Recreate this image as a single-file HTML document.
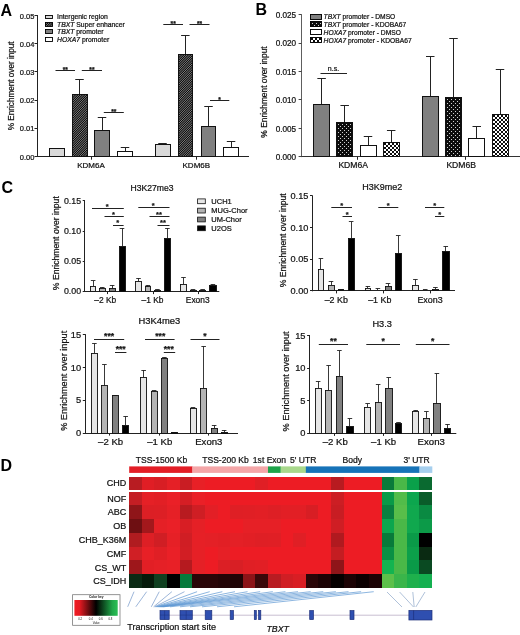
<!DOCTYPE html>
<html lang="en"><head><meta charset="utf-8"><title>Figure</title>
<style>html,body{margin:0;padding:0;background:#fff;}body{width:520px;height:635px;overflow:hidden;}svg{display:block;font-family:'Liberation Sans', Arial, sans-serif;}text{stroke:#111;stroke-width:0.22px;paint-order:stroke fill;}</style>
</head><body>
<svg width="520" height="635" viewBox="0 0 520 635">
<defs>
<pattern id="hatch" width="1.63" height="1.63" patternUnits="userSpaceOnUse" patternTransform="rotate(-45)"><rect width="1.63" height="1.63" fill="#0c0c0c"/><rect width="1.63" height="0.55" fill="#fff"/></pattern>
<pattern id="chkd" width="4.2" height="4.0" patternUnits="userSpaceOnUse"><rect width="4.2" height="4.0" fill="#0c0c0c"/><rect x="0.5" y="0.45" width="1.1" height="1.1" fill="#fff"/><rect x="2.6" y="2.45" width="1.1" height="1.1" fill="#fff"/></pattern>
<pattern id="chkl" width="4.2" height="4.2" patternUnits="userSpaceOnUse"><rect width="4.2" height="4.2" fill="#fff"/><rect x="0" y="0" width="2.1" height="2.1" fill="#0c0c0c"/><rect x="2.1" y="2.1" width="2.1" height="2.1" fill="#0c0c0c"/></pattern>
<linearGradient id="ckey" x1="0" x2="1" y1="0" y2="0"><stop offset="0" stop-color="#f01c24"/><stop offset="0.12" stop-color="#e31a22"/><stop offset="0.5" stop-color="#000"/><stop offset="0.88" stop-color="#1fa849"/><stop offset="1" stop-color="#2bbf55"/></linearGradient>
</defs>
<rect width="520" height="635" fill="#fff"/>
<text x="0.50" y="16.00" font-size="16" text-anchor="start" font-weight="bold" font-style="normal" fill="#000" style="stroke:none">A</text>
<text x="255.50" y="15.00" font-size="16" text-anchor="start" font-weight="bold" font-style="normal" fill="#000" style="stroke:none">B</text>
<text x="1.50" y="193.00" font-size="16" text-anchor="start" font-weight="bold" font-style="normal" fill="#000" style="stroke:none">C</text>
<text x="0.50" y="470.50" font-size="16" text-anchor="start" font-weight="bold" font-style="normal" fill="#000" style="stroke:none">D</text>
<line x1="37.50" y1="15.00" x2="37.50" y2="157.00" stroke="#222" stroke-width="1" />
<line x1="37.00" y1="156.50" x2="249.00" y2="156.50" stroke="#222" stroke-width="1" />
<line x1="34.50" y1="156.50" x2="37.50" y2="156.50" stroke="#222" stroke-width="1" />
<text x="34.40" y="159.60" font-size="7.5" text-anchor="end" font-weight="normal" font-style="normal" fill="#111" >0.00</text>
<line x1="34.50" y1="128.50" x2="37.50" y2="128.50" stroke="#222" stroke-width="1" />
<text x="34.40" y="131.40" font-size="7.5" text-anchor="end" font-weight="normal" font-style="normal" fill="#111" >0.01</text>
<line x1="34.50" y1="100.50" x2="37.50" y2="100.50" stroke="#222" stroke-width="1" />
<text x="34.40" y="103.20" font-size="7.5" text-anchor="end" font-weight="normal" font-style="normal" fill="#111" >0.02</text>
<line x1="34.50" y1="71.50" x2="37.50" y2="71.50" stroke="#222" stroke-width="1" />
<text x="34.40" y="75.00" font-size="7.5" text-anchor="end" font-weight="normal" font-style="normal" fill="#111" >0.03</text>
<line x1="34.50" y1="43.50" x2="37.50" y2="43.50" stroke="#222" stroke-width="1" />
<text x="34.40" y="46.80" font-size="7.5" text-anchor="end" font-weight="normal" font-style="normal" fill="#111" >0.04</text>
<line x1="34.50" y1="15.50" x2="37.50" y2="15.50" stroke="#222" stroke-width="1" />
<text x="34.40" y="18.60" font-size="7.5" text-anchor="end" font-weight="normal" font-style="normal" fill="#111" >0.05</text>
<text transform="translate(13.6,85.8) rotate(-90)" font-size="8.17" text-anchor="middle" fill="#111">% Enrichment over input</text>
<line x1="91.50" y1="156.50" x2="91.50" y2="159.70" stroke="#222" stroke-width="1" />
<line x1="196.50" y1="156.50" x2="196.50" y2="159.70" stroke="#222" stroke-width="1" />
<text x="91.00" y="168.40" font-size="8.0" text-anchor="middle" font-weight="normal" font-style="normal" fill="#111" >KDM6A</text>
<text x="196.30" y="168.40" font-size="8.0" text-anchor="middle" font-weight="normal" font-style="normal" fill="#111" >KDM6B</text>
<line x1="56.50" y1="148.80" x2="56.50" y2="148.30" stroke="#222" stroke-width="1" />
<line x1="52.25" y1="148.50" x2="60.75" y2="148.50" stroke="#222" stroke-width="1" />
<rect x="49.50" y="148.50" width="15.00" height="8.00" fill="#d9d9d9" stroke="#111" stroke-width="1" />
<line x1="79.50" y1="94.30" x2="79.50" y2="79.20" stroke="#222" stroke-width="1" />
<line x1="75.25" y1="79.50" x2="83.75" y2="79.50" stroke="#222" stroke-width="1" />
<clipPath id="cp1"><rect x="72.50" y="94.50" width="15.00" height="62.00"/></clipPath>
<rect x="72.50" y="94.50" width="15.00" height="62.00" fill="#0c0c0c"/>
<path d="M10.50 156.50L72.50 94.50M12.80 156.50L74.80 94.50M15.10 156.50L77.10 94.50M17.40 156.50L79.40 94.50M19.70 156.50L81.70 94.50M22.00 156.50L84.00 94.50M24.30 156.50L86.30 94.50M26.60 156.50L88.60 94.50M28.90 156.50L90.90 94.50M31.20 156.50L93.20 94.50M33.50 156.50L95.50 94.50M35.80 156.50L97.80 94.50M38.10 156.50L100.10 94.50M40.40 156.50L102.40 94.50M42.70 156.50L104.70 94.50M45.00 156.50L107.00 94.50M47.30 156.50L109.30 94.50M49.60 156.50L111.60 94.50M51.90 156.50L113.90 94.50M54.20 156.50L116.20 94.50M56.50 156.50L118.50 94.50M58.80 156.50L120.80 94.50M61.10 156.50L123.10 94.50M63.40 156.50L125.40 94.50M65.70 156.50L127.70 94.50M68.00 156.50L130.00 94.50M70.30 156.50L132.30 94.50M72.60 156.50L134.60 94.50M74.90 156.50L136.90 94.50M77.20 156.50L139.20 94.50M79.50 156.50L141.50 94.50M81.80 156.50L143.80 94.50M84.10 156.50L146.10 94.50M86.40 156.50L148.40 94.50" stroke="#fff" stroke-width="0.48" fill="none" clip-path="url(#cp1)"/>
<rect x="72.50" y="94.50" width="15.00" height="62.00" fill="none" stroke="#111" stroke-width="1" />
<line x1="102.50" y1="130.80" x2="102.50" y2="117.50" stroke="#222" stroke-width="1" />
<line x1="97.75" y1="117.50" x2="106.25" y2="117.50" stroke="#222" stroke-width="1" />
<rect x="94.50" y="130.50" width="15.00" height="26.00" fill="#808080" stroke="#111" stroke-width="1" />
<line x1="125.50" y1="151.30" x2="125.50" y2="147.00" stroke="#222" stroke-width="1" />
<line x1="120.75" y1="147.50" x2="129.25" y2="147.50" stroke="#222" stroke-width="1" />
<rect x="117.50" y="151.50" width="15.00" height="5.00" fill="#fff" stroke="#111" stroke-width="1" />
<line x1="162.50" y1="144.30" x2="162.50" y2="143.60" stroke="#222" stroke-width="1" />
<line x1="158.25" y1="143.50" x2="166.75" y2="143.50" stroke="#222" stroke-width="1" />
<rect x="155.50" y="144.50" width="15.00" height="12.00" fill="#d9d9d9" stroke="#111" stroke-width="1" />
<line x1="185.50" y1="54.50" x2="185.50" y2="35.80" stroke="#222" stroke-width="1" />
<line x1="181.10" y1="35.50" x2="189.60" y2="35.50" stroke="#222" stroke-width="1" />
<clipPath id="cp2"><rect x="178.50" y="54.50" width="14.00" height="102.00"/></clipPath>
<rect x="178.50" y="54.50" width="14.00" height="102.00" fill="#0c0c0c"/>
<path d="M76.50 156.50L178.50 54.50M78.80 156.50L180.80 54.50M81.10 156.50L183.10 54.50M83.40 156.50L185.40 54.50M85.70 156.50L187.70 54.50M88.00 156.50L190.00 54.50M90.30 156.50L192.30 54.50M92.60 156.50L194.60 54.50M94.90 156.50L196.90 54.50M97.20 156.50L199.20 54.50M99.50 156.50L201.50 54.50M101.80 156.50L203.80 54.50M104.10 156.50L206.10 54.50M106.40 156.50L208.40 54.50M108.70 156.50L210.70 54.50M111.00 156.50L213.00 54.50M113.30 156.50L215.30 54.50M115.60 156.50L217.60 54.50M117.90 156.50L219.90 54.50M120.20 156.50L222.20 54.50M122.50 156.50L224.50 54.50M124.80 156.50L226.80 54.50M127.10 156.50L229.10 54.50M129.40 156.50L231.40 54.50M131.70 156.50L233.70 54.50M134.00 156.50L236.00 54.50M136.30 156.50L238.30 54.50M138.60 156.50L240.60 54.50M140.90 156.50L242.90 54.50M143.20 156.50L245.20 54.50M145.50 156.50L247.50 54.50M147.80 156.50L249.80 54.50M150.10 156.50L252.10 54.50M152.40 156.50L254.40 54.50M154.70 156.50L256.70 54.50M157.00 156.50L259.00 54.50M159.30 156.50L261.30 54.50M161.60 156.50L263.60 54.50M163.90 156.50L265.90 54.50M166.20 156.50L268.20 54.50M168.50 156.50L270.50 54.50M170.80 156.50L272.80 54.50M173.10 156.50L275.10 54.50M175.40 156.50L277.40 54.50M177.70 156.50L279.70 54.50M180.00 156.50L282.00 54.50M182.30 156.50L284.30 54.50M184.60 156.50L286.60 54.50M186.90 156.50L288.90 54.50M189.20 156.50L291.20 54.50M191.50 156.50L293.50 54.50" stroke="#fff" stroke-width="0.48" fill="none" clip-path="url(#cp2)"/>
<rect x="178.50" y="54.50" width="14.00" height="102.00" fill="none" stroke="#111" stroke-width="1" />
<line x1="208.50" y1="126.80" x2="208.50" y2="106.30" stroke="#222" stroke-width="1" />
<line x1="204.25" y1="106.50" x2="212.75" y2="106.50" stroke="#222" stroke-width="1" />
<rect x="201.50" y="126.50" width="14.00" height="30.00" fill="#808080" stroke="#111" stroke-width="1" />
<line x1="231.50" y1="147.80" x2="231.50" y2="141.50" stroke="#222" stroke-width="1" />
<line x1="226.80" y1="141.50" x2="235.30" y2="141.50" stroke="#222" stroke-width="1" />
<rect x="223.50" y="147.50" width="15.00" height="9.00" fill="#fff" stroke="#111" stroke-width="1" />
<line x1="55.50" y1="70.50" x2="75.00" y2="70.50" stroke="#222" stroke-width="1" />
<text x="65.25" y="71.50" font-size="6.6" text-anchor="middle" font-weight="bold" font-style="normal" fill="#111" >**</text>
<line x1="81.80" y1="70.50" x2="102.00" y2="70.50" stroke="#222" stroke-width="1" />
<text x="91.90" y="71.50" font-size="6.6" text-anchor="middle" font-weight="bold" font-style="normal" fill="#111" >**</text>
<line x1="103.80" y1="112.50" x2="123.80" y2="112.50" stroke="#222" stroke-width="1" />
<text x="113.80" y="113.50" font-size="6.6" text-anchor="middle" font-weight="bold" font-style="normal" fill="#111" >**</text>
<line x1="163.30" y1="24.50" x2="183.00" y2="24.50" stroke="#222" stroke-width="1" />
<text x="173.15" y="25.50" font-size="6.6" text-anchor="middle" font-weight="bold" font-style="normal" fill="#111" >**</text>
<line x1="189.50" y1="24.50" x2="209.50" y2="24.50" stroke="#222" stroke-width="1" />
<text x="199.50" y="25.50" font-size="6.6" text-anchor="middle" font-weight="bold" font-style="normal" fill="#111" >**</text>
<line x1="210.00" y1="100.50" x2="229.30" y2="100.50" stroke="#222" stroke-width="1" />
<text x="219.65" y="101.50" font-size="6.6" text-anchor="middle" font-weight="bold" font-style="normal" fill="#111" >*</text>
<rect x="45.50" y="15.50" width="7.00" height="3.00" fill="#d9d9d9" stroke="#000" stroke-width="0.9" />
<text x="57.00" y="19.30" font-size="6.82" text-anchor="start" font-weight="normal" font-style="normal" fill="#111" >Intergenic region</text>
<clipPath id="cp3"><rect x="45.00" y="22.50" width="7.60" height="3.80"/></clipPath>
<rect x="45.00" y="22.50" width="7.60" height="3.80" fill="#0c0c0c"/>
<path d="M41.20 26.30L45.00 22.50M43.50 26.30L47.30 22.50M45.80 26.30L49.60 22.50M48.10 26.30L51.90 22.50M50.40 26.30L54.20 22.50M52.70 26.30L56.50 22.50" stroke="#fff" stroke-width="0.48" fill="none" clip-path="url(#cp3)"/>
<rect x="45.50" y="22.50" width="7.00" height="4.00" fill="none" stroke="#000" stroke-width="0.9" />
<text x="57.00" y="26.70" font-size="6.82" text-anchor="start" font-weight="normal" font-style="normal" fill="#111" ><tspan font-style="italic">TBXT</tspan> Super enhancer</text>
<rect x="45.50" y="29.50" width="7.00" height="4.00" fill="#808080" stroke="#000" stroke-width="0.9" />
<text x="57.00" y="34.10" font-size="6.82" text-anchor="start" font-weight="normal" font-style="normal" fill="#111" ><tspan font-style="italic">TBXT</tspan> promoter</text>
<rect x="45.50" y="37.50" width="7.00" height="4.00" fill="#fff" stroke="#000" stroke-width="0.9" />
<text x="57.00" y="41.60" font-size="6.82" text-anchor="start" font-weight="normal" font-style="normal" fill="#111" ><tspan font-style="italic">HOXA7</tspan> promoter</text>
<line x1="301.50" y1="14.30" x2="301.50" y2="157.10" stroke="#5e5e5e" stroke-width="1" />
<line x1="301.10" y1="156.50" x2="520.00" y2="156.50" stroke="#333" stroke-width="1" />
<line x1="298.60" y1="156.50" x2="301.60" y2="156.50" stroke="#444" stroke-width="1" />
<text x="296.20" y="159.90" font-size="8.2" text-anchor="end" font-weight="normal" font-style="normal" fill="#111" >0.000</text>
<line x1="298.60" y1="128.50" x2="301.60" y2="128.50" stroke="#444" stroke-width="1" />
<text x="296.20" y="131.54" font-size="8.2" text-anchor="end" font-weight="normal" font-style="normal" fill="#111" >0.005</text>
<line x1="298.60" y1="99.50" x2="301.60" y2="99.50" stroke="#444" stroke-width="1" />
<text x="296.20" y="103.18" font-size="8.2" text-anchor="end" font-weight="normal" font-style="normal" fill="#111" >0.010</text>
<line x1="298.60" y1="71.50" x2="301.60" y2="71.50" stroke="#444" stroke-width="1" />
<text x="296.20" y="74.82" font-size="8.2" text-anchor="end" font-weight="normal" font-style="normal" fill="#111" >0.015</text>
<line x1="298.60" y1="43.50" x2="301.60" y2="43.50" stroke="#444" stroke-width="1" />
<text x="296.20" y="46.46" font-size="8.2" text-anchor="end" font-weight="normal" font-style="normal" fill="#111" >0.020</text>
<line x1="298.60" y1="14.50" x2="301.60" y2="14.50" stroke="#444" stroke-width="1" />
<text x="296.20" y="18.10" font-size="8.2" text-anchor="end" font-weight="normal" font-style="normal" fill="#111" >0.025</text>
<text transform="translate(267.4,92) rotate(-90)" font-size="8.4" text-anchor="middle" fill="#111">% Enrichment over input</text>
<line x1="357.50" y1="156.60" x2="357.50" y2="159.80" stroke="#222" stroke-width="1" />
<line x1="465.50" y1="156.60" x2="465.50" y2="159.80" stroke="#222" stroke-width="1" />
<text x="353.20" y="167.50" font-size="8.6" text-anchor="middle" font-weight="normal" font-style="normal" fill="#111" >KDM6A</text>
<text x="461.20" y="167.50" font-size="8.6" text-anchor="middle" font-weight="normal" font-style="normal" fill="#111" >KDM6B</text>
<line x1="321.50" y1="104.80" x2="321.50" y2="78.00" stroke="#222" stroke-width="1" />
<line x1="317.35" y1="78.50" x2="325.85" y2="78.50" stroke="#222" stroke-width="1" />
<rect x="313.50" y="104.50" width="16.00" height="52.00" fill="#808080" stroke="#111" stroke-width="1" />
<line x1="344.50" y1="122.80" x2="344.50" y2="105.00" stroke="#222" stroke-width="1" />
<line x1="340.45" y1="105.50" x2="348.95" y2="105.50" stroke="#222" stroke-width="1" />
<clipPath id="cp4"><rect x="336.50" y="122.50" width="16.00" height="34.00"/></clipPath>
<rect x="336.50" y="122.50" width="16.00" height="34.00" fill="#0c0c0c"/>
<path d="M338 124h1v1h-1zM342 124h1v1h-1zM346 124h1v1h-1zM350 124h1v1h-1zM340 126h1v1h-1zM344 126h1v1h-1zM348 126h1v1h-1zM352 126h1v1h-1zM338 128h1v1h-1zM342 128h1v1h-1zM346 128h1v1h-1zM350 128h1v1h-1zM340 130h1v1h-1zM344 130h1v1h-1zM348 130h1v1h-1zM352 130h1v1h-1zM338 132h1v1h-1zM342 132h1v1h-1zM346 132h1v1h-1zM350 132h1v1h-1zM340 134h1v1h-1zM344 134h1v1h-1zM348 134h1v1h-1zM352 134h1v1h-1zM338 136h1v1h-1zM342 136h1v1h-1zM346 136h1v1h-1zM350 136h1v1h-1zM340 138h1v1h-1zM344 138h1v1h-1zM348 138h1v1h-1zM352 138h1v1h-1zM338 140h1v1h-1zM342 140h1v1h-1zM346 140h1v1h-1zM350 140h1v1h-1zM340 142h1v1h-1zM344 142h1v1h-1zM348 142h1v1h-1zM352 142h1v1h-1zM338 144h1v1h-1zM342 144h1v1h-1zM346 144h1v1h-1zM350 144h1v1h-1zM340 146h1v1h-1zM344 146h1v1h-1zM348 146h1v1h-1zM352 146h1v1h-1zM338 148h1v1h-1zM342 148h1v1h-1zM346 148h1v1h-1zM350 148h1v1h-1zM340 150h1v1h-1zM344 150h1v1h-1zM348 150h1v1h-1zM352 150h1v1h-1zM338 152h1v1h-1zM342 152h1v1h-1zM346 152h1v1h-1zM350 152h1v1h-1zM340 154h1v1h-1zM344 154h1v1h-1zM348 154h1v1h-1zM352 154h1v1h-1zM338 156h1v1h-1zM342 156h1v1h-1zM346 156h1v1h-1zM350 156h1v1h-1z" fill="#d0d0d0" clip-path="url(#cp4)"/>
<rect x="336.50" y="122.50" width="16.00" height="34.00" fill="none" stroke="#111" stroke-width="1" />
<line x1="368.50" y1="145.40" x2="368.50" y2="136.40" stroke="#222" stroke-width="1" />
<line x1="363.75" y1="136.50" x2="372.25" y2="136.50" stroke="#222" stroke-width="1" />
<rect x="360.50" y="145.50" width="16.00" height="11.00" fill="#fff" stroke="#111" stroke-width="1" />
<line x1="391.50" y1="142.30" x2="391.50" y2="130.20" stroke="#222" stroke-width="1" />
<line x1="386.95" y1="130.50" x2="395.45" y2="130.50" stroke="#222" stroke-width="1" />
<clipPath id="cp5"><rect x="383.50" y="142.50" width="16.00" height="14.00"/></clipPath>
<rect x="383.50" y="142.50" width="16.00" height="14.00" fill="#fff"/>
<path d="M384 143h2v2h-2zM388 143h2v2h-2zM392 143h2v2h-2zM396 143h2v2h-2zM386 145h2v2h-2zM390 145h2v2h-2zM394 145h2v2h-2zM398 145h2v2h-2zM384 147h2v2h-2zM388 147h2v2h-2zM392 147h2v2h-2zM396 147h2v2h-2zM386 149h2v2h-2zM390 149h2v2h-2zM394 149h2v2h-2zM398 149h2v2h-2zM384 151h2v2h-2zM388 151h2v2h-2zM392 151h2v2h-2zM396 151h2v2h-2zM386 153h2v2h-2zM390 153h2v2h-2zM394 153h2v2h-2zM398 153h2v2h-2zM384 155h2v2h-2zM388 155h2v2h-2zM392 155h2v2h-2zM396 155h2v2h-2z" fill="#0c0c0c" clip-path="url(#cp5)"/>
<rect x="383.50" y="142.50" width="16.00" height="14.00" fill="none" stroke="#111" stroke-width="1" />
<line x1="430.50" y1="96.50" x2="430.50" y2="56.50" stroke="#222" stroke-width="1" />
<line x1="426.00" y1="56.50" x2="434.50" y2="56.50" stroke="#222" stroke-width="1" />
<rect x="422.50" y="96.50" width="16.00" height="60.00" fill="#808080" stroke="#111" stroke-width="1" />
<line x1="453.50" y1="97.00" x2="453.50" y2="38.20" stroke="#222" stroke-width="1" />
<line x1="449.25" y1="38.50" x2="457.75" y2="38.50" stroke="#222" stroke-width="1" />
<clipPath id="cp6"><rect x="445.50" y="97.50" width="16.00" height="59.00"/></clipPath>
<rect x="445.50" y="97.50" width="16.00" height="59.00" fill="#0c0c0c"/>
<path d="M447 99h1v1h-1zM451 99h1v1h-1zM455 99h1v1h-1zM459 99h1v1h-1zM449 101h1v1h-1zM453 101h1v1h-1zM457 101h1v1h-1zM461 101h1v1h-1zM447 103h1v1h-1zM451 103h1v1h-1zM455 103h1v1h-1zM459 103h1v1h-1zM449 105h1v1h-1zM453 105h1v1h-1zM457 105h1v1h-1zM461 105h1v1h-1zM447 107h1v1h-1zM451 107h1v1h-1zM455 107h1v1h-1zM459 107h1v1h-1zM449 109h1v1h-1zM453 109h1v1h-1zM457 109h1v1h-1zM461 109h1v1h-1zM447 111h1v1h-1zM451 111h1v1h-1zM455 111h1v1h-1zM459 111h1v1h-1zM449 113h1v1h-1zM453 113h1v1h-1zM457 113h1v1h-1zM461 113h1v1h-1zM447 115h1v1h-1zM451 115h1v1h-1zM455 115h1v1h-1zM459 115h1v1h-1zM449 117h1v1h-1zM453 117h1v1h-1zM457 117h1v1h-1zM461 117h1v1h-1zM447 119h1v1h-1zM451 119h1v1h-1zM455 119h1v1h-1zM459 119h1v1h-1zM449 121h1v1h-1zM453 121h1v1h-1zM457 121h1v1h-1zM461 121h1v1h-1zM447 123h1v1h-1zM451 123h1v1h-1zM455 123h1v1h-1zM459 123h1v1h-1zM449 125h1v1h-1zM453 125h1v1h-1zM457 125h1v1h-1zM461 125h1v1h-1zM447 127h1v1h-1zM451 127h1v1h-1zM455 127h1v1h-1zM459 127h1v1h-1zM449 129h1v1h-1zM453 129h1v1h-1zM457 129h1v1h-1zM461 129h1v1h-1zM447 131h1v1h-1zM451 131h1v1h-1zM455 131h1v1h-1zM459 131h1v1h-1zM449 133h1v1h-1zM453 133h1v1h-1zM457 133h1v1h-1zM461 133h1v1h-1zM447 135h1v1h-1zM451 135h1v1h-1zM455 135h1v1h-1zM459 135h1v1h-1zM449 137h1v1h-1zM453 137h1v1h-1zM457 137h1v1h-1zM461 137h1v1h-1zM447 139h1v1h-1zM451 139h1v1h-1zM455 139h1v1h-1zM459 139h1v1h-1zM449 141h1v1h-1zM453 141h1v1h-1zM457 141h1v1h-1zM461 141h1v1h-1zM447 143h1v1h-1zM451 143h1v1h-1zM455 143h1v1h-1zM459 143h1v1h-1zM449 145h1v1h-1zM453 145h1v1h-1zM457 145h1v1h-1zM461 145h1v1h-1zM447 147h1v1h-1zM451 147h1v1h-1zM455 147h1v1h-1zM459 147h1v1h-1zM449 149h1v1h-1zM453 149h1v1h-1zM457 149h1v1h-1zM461 149h1v1h-1zM447 151h1v1h-1zM451 151h1v1h-1zM455 151h1v1h-1zM459 151h1v1h-1zM449 153h1v1h-1zM453 153h1v1h-1zM457 153h1v1h-1zM461 153h1v1h-1zM447 155h1v1h-1zM451 155h1v1h-1zM455 155h1v1h-1zM459 155h1v1h-1z" fill="#d0d0d0" clip-path="url(#cp6)"/>
<rect x="445.50" y="97.50" width="16.00" height="59.00" fill="none" stroke="#111" stroke-width="1" />
<line x1="476.50" y1="138.70" x2="476.50" y2="126.90" stroke="#222" stroke-width="1" />
<line x1="472.50" y1="126.50" x2="481.00" y2="126.50" stroke="#222" stroke-width="1" />
<rect x="468.50" y="138.50" width="16.00" height="18.00" fill="#fff" stroke="#111" stroke-width="1" />
<line x1="500.50" y1="114.00" x2="500.50" y2="69.00" stroke="#222" stroke-width="1" />
<line x1="495.75" y1="69.50" x2="504.25" y2="69.50" stroke="#222" stroke-width="1" />
<clipPath id="cp7"><rect x="492.50" y="114.50" width="16.00" height="42.00"/></clipPath>
<rect x="492.50" y="114.50" width="16.00" height="42.00" fill="#fff"/>
<path d="M493 115h2v2h-2zM497 115h2v2h-2zM501 115h2v2h-2zM505 115h2v2h-2zM495 117h2v2h-2zM499 117h2v2h-2zM503 117h2v2h-2zM507 117h2v2h-2zM493 119h2v2h-2zM497 119h2v2h-2zM501 119h2v2h-2zM505 119h2v2h-2zM495 121h2v2h-2zM499 121h2v2h-2zM503 121h2v2h-2zM507 121h2v2h-2zM493 123h2v2h-2zM497 123h2v2h-2zM501 123h2v2h-2zM505 123h2v2h-2zM495 125h2v2h-2zM499 125h2v2h-2zM503 125h2v2h-2zM507 125h2v2h-2zM493 127h2v2h-2zM497 127h2v2h-2zM501 127h2v2h-2zM505 127h2v2h-2zM495 129h2v2h-2zM499 129h2v2h-2zM503 129h2v2h-2zM507 129h2v2h-2zM493 131h2v2h-2zM497 131h2v2h-2zM501 131h2v2h-2zM505 131h2v2h-2zM495 133h2v2h-2zM499 133h2v2h-2zM503 133h2v2h-2zM507 133h2v2h-2zM493 135h2v2h-2zM497 135h2v2h-2zM501 135h2v2h-2zM505 135h2v2h-2zM495 137h2v2h-2zM499 137h2v2h-2zM503 137h2v2h-2zM507 137h2v2h-2zM493 139h2v2h-2zM497 139h2v2h-2zM501 139h2v2h-2zM505 139h2v2h-2zM495 141h2v2h-2zM499 141h2v2h-2zM503 141h2v2h-2zM507 141h2v2h-2zM493 143h2v2h-2zM497 143h2v2h-2zM501 143h2v2h-2zM505 143h2v2h-2zM495 145h2v2h-2zM499 145h2v2h-2zM503 145h2v2h-2zM507 145h2v2h-2zM493 147h2v2h-2zM497 147h2v2h-2zM501 147h2v2h-2zM505 147h2v2h-2zM495 149h2v2h-2zM499 149h2v2h-2zM503 149h2v2h-2zM507 149h2v2h-2zM493 151h2v2h-2zM497 151h2v2h-2zM501 151h2v2h-2zM505 151h2v2h-2zM495 153h2v2h-2zM499 153h2v2h-2zM503 153h2v2h-2zM507 153h2v2h-2zM493 155h2v2h-2zM497 155h2v2h-2zM501 155h2v2h-2zM505 155h2v2h-2z" fill="#0c0c0c" clip-path="url(#cp7)"/>
<rect x="492.50" y="114.50" width="16.00" height="42.00" fill="none" stroke="#111" stroke-width="1" />
<line x1="320.50" y1="73.50" x2="347.00" y2="73.50" stroke="#222" stroke-width="1" />
<text x="333.50" y="71.00" font-size="7" text-anchor="middle" font-weight="normal" font-style="normal" fill="#111" >n.s.</text>
<rect x="310.50" y="14.50" width="11.00" height="5.00" fill="#808080" stroke="#000" stroke-width="0.95" />
<text x="323.60" y="19.10" font-size="6.7" text-anchor="start" font-weight="normal" font-style="normal" fill="#111" ><tspan font-style="italic">TBXT</tspan> promoter - DMSO</text>
<clipPath id="cp8"><rect x="310.30" y="21.60" width="11.00" height="5.00"/></clipPath>
<rect x="310.30" y="21.60" width="11.00" height="5.00" fill="#0c0c0c"/>
<path d="M312 23h1v1h-1zM316 23h1v1h-1zM320 23h1v1h-1zM314 25h1v1h-1zM318 25h1v1h-1z" fill="#d0d0d0" clip-path="url(#cp8)"/>
<rect x="310.50" y="21.50" width="11.00" height="5.00" fill="none" stroke="#000" stroke-width="0.95" />
<text x="323.60" y="26.50" font-size="6.7" text-anchor="start" font-weight="normal" font-style="normal" fill="#111" ><tspan font-style="italic">TBXT</tspan> promoter - KDOBA67</text>
<rect x="310.50" y="29.50" width="11.00" height="5.00" fill="#fff" stroke="#000" stroke-width="0.95" />
<text x="323.60" y="34.80" font-size="6.7" text-anchor="start" font-weight="normal" font-style="normal" fill="#111" ><tspan font-style="italic">HOXA7</tspan> promoter - DMSO</text>
<clipPath id="cp9"><rect x="310.30" y="37.60" width="11.00" height="5.00"/></clipPath>
<rect x="310.30" y="37.60" width="11.00" height="5.00" fill="#fff"/>
<path d="M311 38h2v2h-2zM315 38h2v2h-2zM319 38h2v2h-2zM313 40h2v2h-2zM317 40h2v2h-2zM321 40h2v2h-2zM311 42h2v2h-2zM315 42h2v2h-2zM319 42h2v2h-2z" fill="#0c0c0c" clip-path="url(#cp9)"/>
<rect x="310.50" y="37.50" width="11.00" height="5.00" fill="none" stroke="#000" stroke-width="0.95" />
<text x="323.60" y="42.50" font-size="6.7" text-anchor="start" font-weight="normal" font-style="normal" fill="#111" ><tspan font-style="italic">HOXA7</tspan> promoter - KDOBA67</text>
<line x1="84.50" y1="200.30" x2="84.50" y2="292.00" stroke="#222" stroke-width="1" />
<line x1="84.40" y1="291.50" x2="219.30" y2="291.50" stroke="#222" stroke-width="1" />
<line x1="82.70" y1="291.50" x2="84.90" y2="291.50" stroke="#222" stroke-width="1" />
<text x="81.10" y="294.49" font-size="8.8" text-anchor="end" font-weight="normal" font-style="normal" fill="#111" >0.00</text>
<line x1="82.70" y1="261.50" x2="84.90" y2="261.50" stroke="#222" stroke-width="1" />
<text x="81.10" y="264.26" font-size="8.8" text-anchor="end" font-weight="normal" font-style="normal" fill="#111" >0.05</text>
<line x1="82.70" y1="231.50" x2="84.90" y2="231.50" stroke="#222" stroke-width="1" />
<text x="81.10" y="234.03" font-size="8.8" text-anchor="end" font-weight="normal" font-style="normal" fill="#111" >0.10</text>
<line x1="82.70" y1="200.50" x2="84.90" y2="200.50" stroke="#222" stroke-width="1" />
<text x="81.10" y="203.79" font-size="8.8" text-anchor="end" font-weight="normal" font-style="normal" fill="#111" >0.15</text>
<text transform="translate(59.4,243.2) rotate(-90)" font-size="8.63" text-anchor="middle" fill="#111">% Enrichment over input</text>
<text x="152.00" y="190.60" font-size="8.6" text-anchor="middle" font-weight="normal" font-style="normal" fill="#111" >H3K27me3</text>
<line x1="93.50" y1="286.30" x2="93.50" y2="280.80" stroke="#222" stroke-width="0.9" />
<line x1="90.85" y1="280.50" x2="95.45" y2="280.50" stroke="#222" stroke-width="0.9" />
<rect x="90.50" y="286.50" width="5.00" height="5.00" fill="#e6e6e6" stroke="#111" stroke-width="0.9" />
<line x1="102.50" y1="288.00" x2="102.50" y2="287.20" stroke="#222" stroke-width="0.9" />
<line x1="99.95" y1="287.50" x2="104.55" y2="287.50" stroke="#222" stroke-width="0.9" />
<rect x="99.50" y="288.50" width="6.00" height="3.00" fill="#b3b3b3" stroke="#111" stroke-width="0.9" />
<line x1="112.50" y1="288.80" x2="112.50" y2="285.00" stroke="#222" stroke-width="0.9" />
<line x1="109.85" y1="285.50" x2="114.45" y2="285.50" stroke="#222" stroke-width="0.9" />
<rect x="109.50" y="288.50" width="6.00" height="3.00" fill="#808080" stroke="#111" stroke-width="0.9" />
<line x1="122.50" y1="246.30" x2="122.50" y2="228.00" stroke="#222" stroke-width="0.9" />
<line x1="119.70" y1="228.50" x2="124.30" y2="228.50" stroke="#222" stroke-width="0.9" />
<rect x="119.50" y="246.50" width="6.00" height="45.00" fill="#000" stroke="#111" stroke-width="0.9" />
<line x1="138.50" y1="281.30" x2="138.50" y2="278.00" stroke="#222" stroke-width="0.9" />
<line x1="136.20" y1="278.50" x2="140.80" y2="278.50" stroke="#222" stroke-width="0.9" />
<rect x="135.50" y="281.50" width="6.00" height="10.00" fill="#e6e6e6" stroke="#111" stroke-width="0.9" />
<line x1="147.50" y1="286.80" x2="147.50" y2="285.00" stroke="#222" stroke-width="0.9" />
<line x1="145.60" y1="285.50" x2="150.20" y2="285.50" stroke="#222" stroke-width="0.9" />
<rect x="145.50" y="286.50" width="5.00" height="5.00" fill="#b3b3b3" stroke="#111" stroke-width="0.9" />
<line x1="157.50" y1="290.20" x2="157.50" y2="289.70" stroke="#222" stroke-width="0.9" />
<line x1="155.10" y1="289.50" x2="159.70" y2="289.50" stroke="#222" stroke-width="0.9" />
<rect x="154.50" y="290.50" width="6.00" height="1.00" fill="#808080" stroke="#111" stroke-width="0.9" />
<line x1="167.50" y1="238.30" x2="167.50" y2="228.00" stroke="#222" stroke-width="0.9" />
<line x1="165.10" y1="228.50" x2="169.70" y2="228.50" stroke="#222" stroke-width="0.9" />
<rect x="164.50" y="238.50" width="6.00" height="53.00" fill="#000" stroke="#111" stroke-width="0.9" />
<line x1="183.50" y1="284.30" x2="183.50" y2="277.50" stroke="#222" stroke-width="0.9" />
<line x1="181.20" y1="277.50" x2="185.80" y2="277.50" stroke="#222" stroke-width="0.9" />
<rect x="180.50" y="284.50" width="6.00" height="7.00" fill="#e6e6e6" stroke="#111" stroke-width="0.9" />
<line x1="193.50" y1="290.20" x2="193.50" y2="289.70" stroke="#222" stroke-width="0.9" />
<line x1="190.70" y1="289.50" x2="195.30" y2="289.50" stroke="#222" stroke-width="0.9" />
<rect x="190.50" y="290.50" width="6.00" height="1.00" fill="#b3b3b3" stroke="#111" stroke-width="0.9" />
<line x1="202.50" y1="290.20" x2="202.50" y2="289.70" stroke="#222" stroke-width="0.9" />
<line x1="200.35" y1="289.50" x2="204.95" y2="289.50" stroke="#222" stroke-width="0.9" />
<rect x="199.50" y="290.50" width="6.00" height="1.00" fill="#808080" stroke="#111" stroke-width="0.9" />
<line x1="212.50" y1="285.80" x2="212.50" y2="284.50" stroke="#222" stroke-width="0.9" />
<line x1="210.60" y1="284.50" x2="215.20" y2="284.50" stroke="#222" stroke-width="0.9" />
<rect x="209.50" y="285.50" width="7.00" height="6.00" fill="#000" stroke="#111" stroke-width="0.9" />
<line x1="107.50" y1="291.50" x2="107.50" y2="294.10" stroke="#222" stroke-width="1" />
<text x="105.20" y="303.10" font-size="8.4" text-anchor="middle" font-weight="normal" font-style="normal" fill="#111" >–2 Kb</text>
<line x1="153.50" y1="291.50" x2="153.50" y2="294.10" stroke="#222" stroke-width="1" />
<text x="152.50" y="303.10" font-size="8.4" text-anchor="middle" font-weight="normal" font-style="normal" fill="#111" >–1 Kb</text>
<line x1="198.50" y1="291.50" x2="198.50" y2="294.10" stroke="#222" stroke-width="1" />
<text x="197.70" y="303.10" font-size="8.4" text-anchor="middle" font-weight="normal" font-style="normal" fill="#111" >Exon3</text>
<line x1="92.00" y1="208.50" x2="123.80" y2="208.50" stroke="#222" stroke-width="1" />
<text x="107.10" y="208.55" font-size="7.5" text-anchor="middle" font-weight="bold" font-style="normal" fill="#111" >*</text>
<line x1="104.50" y1="216.50" x2="123.80" y2="216.50" stroke="#222" stroke-width="1" />
<text x="113.55" y="217.35" font-size="7.5" text-anchor="middle" font-weight="bold" font-style="normal" fill="#111" >*</text>
<line x1="113.00" y1="225.50" x2="123.60" y2="225.50" stroke="#222" stroke-width="1" />
<text x="117.70" y="224.65" font-size="7.5" text-anchor="middle" font-weight="bold" font-style="normal" fill="#111" >*</text>
<line x1="138.30" y1="207.50" x2="169.50" y2="207.50" stroke="#222" stroke-width="1" />
<text x="153.10" y="207.55" font-size="7.5" text-anchor="middle" font-weight="bold" font-style="normal" fill="#111" >*</text>
<line x1="149.50" y1="216.50" x2="169.50" y2="216.50" stroke="#222" stroke-width="1" />
<text x="158.90" y="217.35" font-size="7.5" text-anchor="middle" font-weight="bold" font-style="normal" fill="#111" >**</text>
<line x1="157.50" y1="225.50" x2="169.50" y2="225.50" stroke="#222" stroke-width="1" />
<text x="162.90" y="224.65" font-size="7.5" text-anchor="middle" font-weight="bold" font-style="normal" fill="#111" >**</text>
<rect x="197.60" y="198.90" width="7.70" height="4.80" fill="#e6e6e6" stroke="#111" stroke-width="0.8" />
<text x="211.30" y="204.00" font-size="7.5" text-anchor="start" font-weight="normal" font-style="normal" fill="#111" >UCH1</text>
<rect x="197.60" y="208.20" width="7.70" height="4.80" fill="#b3b3b3" stroke="#111" stroke-width="0.8" />
<text x="211.30" y="213.30" font-size="7.5" text-anchor="start" font-weight="normal" font-style="normal" fill="#111" >MUG-Chor</text>
<rect x="197.60" y="217.10" width="7.70" height="4.80" fill="#808080" stroke="#111" stroke-width="0.8" />
<text x="211.30" y="222.20" font-size="7.5" text-anchor="start" font-weight="normal" font-style="normal" fill="#111" >UM-Chor</text>
<rect x="197.60" y="225.90" width="7.70" height="4.80" fill="#000" stroke="#111" stroke-width="0.8" />
<text x="211.30" y="231.00" font-size="7.5" text-anchor="start" font-weight="normal" font-style="normal" fill="#111" >U2OS</text>
<line x1="312.50" y1="195.30" x2="312.50" y2="291.30" stroke="#222" stroke-width="1" />
<line x1="311.70" y1="290.50" x2="455.00" y2="290.50" stroke="#222" stroke-width="1" />
<line x1="310.00" y1="290.50" x2="312.20" y2="290.50" stroke="#222" stroke-width="1" />
<text x="308.40" y="293.93" font-size="9.2" text-anchor="end" font-weight="normal" font-style="normal" fill="#111" >0.00</text>
<line x1="310.00" y1="259.50" x2="312.20" y2="259.50" stroke="#222" stroke-width="1" />
<text x="308.40" y="262.26" font-size="9.2" text-anchor="end" font-weight="normal" font-style="normal" fill="#111" >0.05</text>
<line x1="310.00" y1="227.50" x2="312.20" y2="227.50" stroke="#222" stroke-width="1" />
<text x="308.40" y="230.59" font-size="9.2" text-anchor="end" font-weight="normal" font-style="normal" fill="#111" >0.10</text>
<line x1="310.00" y1="195.50" x2="312.20" y2="195.50" stroke="#222" stroke-width="1" />
<text x="308.40" y="198.93" font-size="9.2" text-anchor="end" font-weight="normal" font-style="normal" fill="#111" >0.15</text>
<text transform="translate(286.3,240.3) rotate(-90)" font-size="8.63" text-anchor="middle" fill="#111">% Enrichment over input</text>
<text x="382.30" y="189.50" font-size="9.0" text-anchor="middle" font-weight="normal" font-style="normal" fill="#111" >H3K9me2</text>
<line x1="320.50" y1="269.50" x2="320.50" y2="258.80" stroke="#222" stroke-width="0.9" />
<line x1="318.60" y1="258.50" x2="323.20" y2="258.50" stroke="#222" stroke-width="0.9" />
<rect x="318.50" y="269.50" width="5.00" height="21.00" fill="#e6e6e6" stroke="#111" stroke-width="0.9" />
<line x1="331.50" y1="285.00" x2="331.50" y2="281.30" stroke="#222" stroke-width="0.9" />
<line x1="328.70" y1="281.50" x2="333.30" y2="281.50" stroke="#222" stroke-width="0.9" />
<rect x="328.50" y="285.50" width="6.00" height="5.00" fill="#b3b3b3" stroke="#111" stroke-width="0.9" />
<line x1="340.50" y1="289.50" x2="340.50" y2="289.00" stroke="#222" stroke-width="0.9" />
<line x1="338.60" y1="289.50" x2="343.20" y2="289.50" stroke="#222" stroke-width="0.9" />
<rect x="338.50" y="289.50" width="5.00" height="1.00" fill="#808080" stroke="#111" stroke-width="0.9" />
<line x1="351.50" y1="238.30" x2="351.50" y2="221.80" stroke="#222" stroke-width="0.9" />
<line x1="348.85" y1="221.50" x2="353.45" y2="221.50" stroke="#222" stroke-width="0.9" />
<rect x="348.50" y="238.50" width="6.00" height="52.00" fill="#000" stroke="#111" stroke-width="0.9" />
<line x1="367.50" y1="288.00" x2="367.50" y2="286.30" stroke="#222" stroke-width="0.9" />
<line x1="365.60" y1="286.50" x2="370.20" y2="286.50" stroke="#222" stroke-width="0.9" />
<rect x="365.50" y="288.50" width="5.00" height="2.00" fill="#e6e6e6" stroke="#111" stroke-width="0.9" />
<line x1="377.50" y1="290.00" x2="377.50" y2="288.50" stroke="#222" stroke-width="0.9" />
<line x1="375.60" y1="288.50" x2="380.20" y2="288.50" stroke="#222" stroke-width="0.9" />
<rect x="375.50" y="290.50" width="5.00" height="0.00" fill="#b3b3b3" stroke="#111" stroke-width="0.9" />
<line x1="388.50" y1="286.80" x2="388.50" y2="283.80" stroke="#222" stroke-width="0.9" />
<line x1="385.70" y1="283.50" x2="390.30" y2="283.50" stroke="#222" stroke-width="0.9" />
<rect x="385.50" y="286.50" width="6.00" height="4.00" fill="#808080" stroke="#111" stroke-width="0.9" />
<line x1="398.50" y1="253.80" x2="398.50" y2="235.80" stroke="#222" stroke-width="0.9" />
<line x1="395.95" y1="235.50" x2="400.55" y2="235.50" stroke="#222" stroke-width="0.9" />
<rect x="395.50" y="253.50" width="6.00" height="37.00" fill="#000" stroke="#111" stroke-width="0.9" />
<line x1="415.50" y1="285.00" x2="415.50" y2="279.50" stroke="#222" stroke-width="0.9" />
<line x1="413.10" y1="279.50" x2="417.70" y2="279.50" stroke="#222" stroke-width="0.9" />
<rect x="412.50" y="285.50" width="6.00" height="5.00" fill="#e6e6e6" stroke="#111" stroke-width="0.9" />
<line x1="425.50" y1="290.00" x2="425.50" y2="289.80" stroke="#222" stroke-width="0.9" />
<line x1="422.95" y1="289.50" x2="427.55" y2="289.50" stroke="#222" stroke-width="0.9" />
<rect x="422.50" y="290.50" width="6.00" height="0.00" fill="#b3b3b3" stroke="#111" stroke-width="0.9" />
<line x1="435.50" y1="289.50" x2="435.50" y2="287.50" stroke="#222" stroke-width="0.9" />
<line x1="433.10" y1="287.50" x2="437.70" y2="287.50" stroke="#222" stroke-width="0.9" />
<rect x="432.50" y="289.50" width="6.00" height="1.00" fill="#808080" stroke="#111" stroke-width="0.9" />
<line x1="445.50" y1="251.80" x2="445.50" y2="246.30" stroke="#222" stroke-width="0.9" />
<line x1="443.45" y1="246.50" x2="448.05" y2="246.50" stroke="#222" stroke-width="0.9" />
<rect x="442.50" y="251.50" width="7.00" height="39.00" fill="#000" stroke="#111" stroke-width="0.9" />
<line x1="336.50" y1="290.80" x2="336.50" y2="293.40" stroke="#222" stroke-width="1" />
<text x="336.30" y="303.10" font-size="8.9" text-anchor="middle" font-weight="normal" font-style="normal" fill="#111" >–2 Kb</text>
<line x1="383.50" y1="290.80" x2="383.50" y2="293.40" stroke="#222" stroke-width="1" />
<text x="379.80" y="303.10" font-size="8.9" text-anchor="middle" font-weight="normal" font-style="normal" fill="#111" >–1 Kb</text>
<line x1="430.50" y1="290.80" x2="430.50" y2="293.40" stroke="#222" stroke-width="1" />
<text x="430.00" y="303.10" font-size="8.9" text-anchor="middle" font-weight="normal" font-style="normal" fill="#111" >Exon3</text>
<line x1="331.30" y1="207.50" x2="352.00" y2="207.50" stroke="#222" stroke-width="1" />
<text x="341.65" y="207.55" font-size="7.5" text-anchor="middle" font-weight="bold" font-style="normal" fill="#111" >*</text>
<line x1="342.50" y1="216.50" x2="352.00" y2="216.50" stroke="#222" stroke-width="1" />
<text x="347.25" y="216.55" font-size="7.5" text-anchor="middle" font-weight="bold" font-style="normal" fill="#111" >*</text>
<line x1="378.30" y1="207.50" x2="398.30" y2="207.50" stroke="#222" stroke-width="1" />
<text x="388.30" y="207.55" font-size="7.5" text-anchor="middle" font-weight="bold" font-style="normal" fill="#111" >*</text>
<line x1="425.00" y1="207.50" x2="444.30" y2="207.50" stroke="#222" stroke-width="1" />
<text x="434.65" y="207.55" font-size="7.5" text-anchor="middle" font-weight="bold" font-style="normal" fill="#111" >*</text>
<line x1="435.00" y1="216.50" x2="444.30" y2="216.50" stroke="#222" stroke-width="1" />
<text x="439.65" y="216.55" font-size="7.5" text-anchor="middle" font-weight="bold" font-style="normal" fill="#111" >*</text>
<line x1="85.50" y1="334.10" x2="85.50" y2="433.50" stroke="#222" stroke-width="1" />
<line x1="84.50" y1="433.50" x2="238.00" y2="433.50" stroke="#222" stroke-width="1" />
<line x1="82.80" y1="433.50" x2="85.00" y2="433.50" stroke="#222" stroke-width="1" />
<text x="81.20" y="436.16" font-size="9.3" text-anchor="end" font-weight="normal" font-style="normal" fill="#111" >0</text>
<line x1="82.80" y1="400.50" x2="85.00" y2="400.50" stroke="#222" stroke-width="1" />
<text x="81.20" y="403.36" font-size="9.3" text-anchor="end" font-weight="normal" font-style="normal" fill="#111" >5</text>
<line x1="82.80" y1="367.50" x2="85.00" y2="367.50" stroke="#222" stroke-width="1" />
<text x="81.20" y="370.56" font-size="9.3" text-anchor="end" font-weight="normal" font-style="normal" fill="#111" >10</text>
<line x1="82.80" y1="334.50" x2="85.00" y2="334.50" stroke="#222" stroke-width="1" />
<text x="81.20" y="337.76" font-size="9.3" text-anchor="end" font-weight="normal" font-style="normal" fill="#111" >15</text>
<text transform="translate(67.0,380.8) rotate(-90)" font-size="9.2" text-anchor="middle" fill="#111">% Enrichment over input</text>
<text x="159.40" y="323.80" font-size="9.4" text-anchor="middle" font-weight="normal" font-style="normal" fill="#111" >H3K4me3</text>
<line x1="94.50" y1="353.00" x2="94.50" y2="343.30" stroke="#222" stroke-width="0.9" />
<line x1="92.10" y1="343.50" x2="96.70" y2="343.50" stroke="#222" stroke-width="0.9" />
<rect x="91.50" y="353.50" width="6.00" height="80.00" fill="#e6e6e6" stroke="#111" stroke-width="0.9" />
<line x1="104.50" y1="385.80" x2="104.50" y2="364.50" stroke="#222" stroke-width="0.9" />
<line x1="102.10" y1="364.50" x2="106.70" y2="364.50" stroke="#222" stroke-width="0.9" />
<rect x="101.50" y="385.50" width="6.00" height="48.00" fill="#b3b3b3" stroke="#111" stroke-width="0.9" />
<line x1="115.50" y1="395.80" x2="115.50" y2="395.20" stroke="#222" stroke-width="0.9" />
<line x1="112.70" y1="395.50" x2="117.30" y2="395.50" stroke="#222" stroke-width="0.9" />
<rect x="112.50" y="395.50" width="6.00" height="38.00" fill="#808080" stroke="#111" stroke-width="0.9" />
<line x1="125.50" y1="425.00" x2="125.50" y2="416.30" stroke="#222" stroke-width="0.9" />
<line x1="123.35" y1="416.50" x2="127.95" y2="416.50" stroke="#222" stroke-width="0.9" />
<rect x="122.50" y="425.50" width="6.00" height="8.00" fill="#000" stroke="#111" stroke-width="0.9" />
<line x1="143.50" y1="377.50" x2="143.50" y2="370.00" stroke="#222" stroke-width="0.9" />
<line x1="141.35" y1="370.50" x2="145.95" y2="370.50" stroke="#222" stroke-width="0.9" />
<rect x="140.50" y="377.50" width="6.00" height="56.00" fill="#e6e6e6" stroke="#111" stroke-width="0.9" />
<line x1="154.50" y1="391.30" x2="154.50" y2="390.60" stroke="#222" stroke-width="0.9" />
<line x1="151.85" y1="390.50" x2="156.45" y2="390.50" stroke="#222" stroke-width="0.9" />
<rect x="151.50" y="391.50" width="6.00" height="42.00" fill="#b3b3b3" stroke="#111" stroke-width="0.9" />
<line x1="164.50" y1="358.30" x2="164.50" y2="357.60" stroke="#222" stroke-width="0.9" />
<line x1="162.10" y1="357.50" x2="166.70" y2="357.50" stroke="#222" stroke-width="0.9" />
<rect x="161.50" y="358.50" width="6.00" height="75.00" fill="#808080" stroke="#111" stroke-width="0.9" />
<line x1="174.50" y1="432.80" x2="174.50" y2="432.80" stroke="#222" stroke-width="0.9" />
<line x1="172.20" y1="432.50" x2="176.80" y2="432.50" stroke="#222" stroke-width="0.9" />
<rect x="171.50" y="432.50" width="6.00" height="1.00" fill="#000" stroke="#111" stroke-width="0.9" />
<line x1="193.50" y1="408.30" x2="193.50" y2="407.80" stroke="#222" stroke-width="0.9" />
<line x1="190.70" y1="407.50" x2="195.30" y2="407.50" stroke="#222" stroke-width="0.9" />
<rect x="190.50" y="408.50" width="6.00" height="25.00" fill="#e6e6e6" stroke="#111" stroke-width="0.9" />
<line x1="203.50" y1="388.00" x2="203.50" y2="346.30" stroke="#222" stroke-width="0.9" />
<line x1="201.35" y1="346.50" x2="205.95" y2="346.50" stroke="#222" stroke-width="0.9" />
<rect x="200.50" y="388.50" width="6.00" height="45.00" fill="#b3b3b3" stroke="#111" stroke-width="0.9" />
<line x1="214.50" y1="428.30" x2="214.50" y2="425.00" stroke="#222" stroke-width="0.9" />
<line x1="211.85" y1="425.50" x2="216.45" y2="425.50" stroke="#222" stroke-width="0.9" />
<rect x="211.50" y="428.50" width="6.00" height="5.00" fill="#808080" stroke="#111" stroke-width="0.9" />
<line x1="224.50" y1="432.00" x2="224.50" y2="430.00" stroke="#222" stroke-width="0.9" />
<line x1="221.85" y1="430.50" x2="226.45" y2="430.50" stroke="#222" stroke-width="0.9" />
<rect x="221.50" y="432.50" width="6.00" height="1.00" fill="#000" stroke="#111" stroke-width="0.9" />
<line x1="109.50" y1="433.00" x2="109.50" y2="435.60" stroke="#222" stroke-width="1" />
<text x="110.60" y="445.40" font-size="9.6" text-anchor="middle" font-weight="normal" font-style="normal" fill="#111" >–2 Kb</text>
<line x1="159.50" y1="433.00" x2="159.50" y2="435.60" stroke="#222" stroke-width="1" />
<text x="159.80" y="445.40" font-size="9.6" text-anchor="middle" font-weight="normal" font-style="normal" fill="#111" >–1 Kb</text>
<line x1="208.50" y1="433.00" x2="208.50" y2="435.60" stroke="#222" stroke-width="1" />
<text x="208.80" y="445.40" font-size="9.6" text-anchor="middle" font-weight="normal" font-style="normal" fill="#111" >Exon3</text>
<line x1="94.00" y1="339.50" x2="124.20" y2="339.50" stroke="#222" stroke-width="1" />
<text x="109.10" y="339.10" font-size="8.6" text-anchor="middle" font-weight="bold" font-style="normal" fill="#111" >***</text>
<line x1="115.00" y1="352.50" x2="126.40" y2="352.50" stroke="#222" stroke-width="1" />
<text x="120.70" y="352.10" font-size="8.6" text-anchor="middle" font-weight="bold" font-style="normal" fill="#111" >***</text>
<line x1="145.00" y1="339.50" x2="174.60" y2="339.50" stroke="#222" stroke-width="1" />
<text x="160.30" y="339.10" font-size="8.6" text-anchor="middle" font-weight="bold" font-style="normal" fill="#111" >***</text>
<line x1="163.80" y1="352.50" x2="175.20" y2="352.50" stroke="#222" stroke-width="1" />
<text x="168.80" y="351.80" font-size="8.6" text-anchor="middle" font-weight="bold" font-style="normal" fill="#111" >***</text>
<line x1="190.50" y1="339.50" x2="219.50" y2="339.50" stroke="#222" stroke-width="1" />
<text x="205.00" y="339.10" font-size="8.6" text-anchor="middle" font-weight="bold" font-style="normal" fill="#111" >*</text>
<line x1="309.50" y1="335.00" x2="309.50" y2="433.80" stroke="#222" stroke-width="1" />
<line x1="308.80" y1="433.50" x2="456.30" y2="433.50" stroke="#222" stroke-width="1" />
<line x1="307.10" y1="433.50" x2="309.30" y2="433.50" stroke="#222" stroke-width="1" />
<text x="305.50" y="436.46" font-size="9.3" text-anchor="end" font-weight="normal" font-style="normal" fill="#111" >0</text>
<line x1="307.10" y1="400.50" x2="309.30" y2="400.50" stroke="#222" stroke-width="1" />
<text x="305.50" y="403.86" font-size="9.3" text-anchor="end" font-weight="normal" font-style="normal" fill="#111" >5</text>
<line x1="307.10" y1="368.50" x2="309.30" y2="368.50" stroke="#222" stroke-width="1" />
<text x="305.50" y="371.26" font-size="9.3" text-anchor="end" font-weight="normal" font-style="normal" fill="#111" >10</text>
<line x1="307.10" y1="335.50" x2="309.30" y2="335.50" stroke="#222" stroke-width="1" />
<text x="305.50" y="338.66" font-size="9.3" text-anchor="end" font-weight="normal" font-style="normal" fill="#111" >15</text>
<text transform="translate(288.8,381.4) rotate(-90)" font-size="9.2" text-anchor="middle" fill="#111">% Enrichment over input</text>
<text x="382.20" y="327.00" font-size="9.2" text-anchor="middle" font-weight="normal" font-style="normal" fill="#111" >H3.3</text>
<line x1="318.50" y1="388.30" x2="318.50" y2="381.30" stroke="#222" stroke-width="0.9" />
<line x1="315.85" y1="381.50" x2="320.45" y2="381.50" stroke="#222" stroke-width="0.9" />
<rect x="315.50" y="388.50" width="6.00" height="45.00" fill="#e6e6e6" stroke="#111" stroke-width="0.9" />
<line x1="328.50" y1="390.50" x2="328.50" y2="365.50" stroke="#222" stroke-width="0.9" />
<line x1="326.35" y1="365.50" x2="330.95" y2="365.50" stroke="#222" stroke-width="0.9" />
<rect x="325.50" y="390.50" width="6.00" height="43.00" fill="#b3b3b3" stroke="#111" stroke-width="0.9" />
<line x1="339.50" y1="376.30" x2="339.50" y2="350.80" stroke="#222" stroke-width="0.9" />
<line x1="337.10" y1="350.50" x2="341.70" y2="350.50" stroke="#222" stroke-width="0.9" />
<rect x="336.50" y="376.50" width="6.00" height="57.00" fill="#808080" stroke="#111" stroke-width="0.9" />
<line x1="349.50" y1="426.30" x2="349.50" y2="418.80" stroke="#222" stroke-width="0.9" />
<line x1="347.60" y1="418.50" x2="352.20" y2="418.50" stroke="#222" stroke-width="0.9" />
<rect x="346.50" y="426.50" width="7.00" height="7.00" fill="#000" stroke="#111" stroke-width="0.9" />
<line x1="367.50" y1="407.00" x2="367.50" y2="403.80" stroke="#222" stroke-width="0.9" />
<line x1="365.35" y1="403.50" x2="369.95" y2="403.50" stroke="#222" stroke-width="0.9" />
<rect x="364.50" y="407.50" width="6.00" height="26.00" fill="#e6e6e6" stroke="#111" stroke-width="0.9" />
<line x1="378.50" y1="402.50" x2="378.50" y2="384.50" stroke="#222" stroke-width="0.9" />
<line x1="375.85" y1="384.50" x2="380.45" y2="384.50" stroke="#222" stroke-width="0.9" />
<rect x="375.50" y="402.50" width="6.00" height="31.00" fill="#b3b3b3" stroke="#111" stroke-width="0.9" />
<line x1="388.50" y1="388.30" x2="388.50" y2="377.50" stroke="#222" stroke-width="0.9" />
<line x1="386.45" y1="377.50" x2="391.05" y2="377.50" stroke="#222" stroke-width="0.9" />
<rect x="385.50" y="388.50" width="7.00" height="45.00" fill="#808080" stroke="#111" stroke-width="0.9" />
<line x1="398.50" y1="423.00" x2="398.50" y2="422.60" stroke="#222" stroke-width="0.9" />
<line x1="396.20" y1="422.50" x2="400.80" y2="422.50" stroke="#222" stroke-width="0.9" />
<rect x="395.50" y="423.50" width="6.00" height="10.00" fill="#000" stroke="#111" stroke-width="0.9" />
<line x1="415.50" y1="411.30" x2="415.50" y2="410.30" stroke="#222" stroke-width="0.9" />
<line x1="413.35" y1="410.50" x2="417.95" y2="410.50" stroke="#222" stroke-width="0.9" />
<rect x="412.50" y="411.50" width="6.00" height="22.00" fill="#e6e6e6" stroke="#111" stroke-width="0.9" />
<line x1="426.50" y1="418.30" x2="426.50" y2="411.80" stroke="#222" stroke-width="0.9" />
<line x1="424.10" y1="411.50" x2="428.70" y2="411.50" stroke="#222" stroke-width="0.9" />
<rect x="423.50" y="418.50" width="6.00" height="15.00" fill="#b3b3b3" stroke="#111" stroke-width="0.9" />
<line x1="436.50" y1="403.80" x2="436.50" y2="373.30" stroke="#222" stroke-width="0.9" />
<line x1="434.60" y1="373.50" x2="439.20" y2="373.50" stroke="#222" stroke-width="0.9" />
<rect x="433.50" y="403.50" width="7.00" height="30.00" fill="#808080" stroke="#111" stroke-width="0.9" />
<line x1="447.50" y1="428.80" x2="447.50" y2="424.30" stroke="#222" stroke-width="0.9" />
<line x1="445.25" y1="424.50" x2="449.85" y2="424.50" stroke="#222" stroke-width="0.9" />
<rect x="444.50" y="428.50" width="6.00" height="5.00" fill="#000" stroke="#111" stroke-width="0.9" />
<line x1="334.50" y1="433.30" x2="334.50" y2="435.90" stroke="#222" stroke-width="1" />
<text x="335.30" y="445.40" font-size="9.6" text-anchor="middle" font-weight="normal" font-style="normal" fill="#111" >–2 Kb</text>
<line x1="383.50" y1="433.30" x2="383.50" y2="435.90" stroke="#222" stroke-width="1" />
<text x="383.60" y="445.40" font-size="9.6" text-anchor="middle" font-weight="normal" font-style="normal" fill="#111" >–1 Kb</text>
<line x1="431.50" y1="433.30" x2="431.50" y2="435.90" stroke="#222" stroke-width="1" />
<text x="431.20" y="445.40" font-size="9.6" text-anchor="middle" font-weight="normal" font-style="normal" fill="#111" >Exon3</text>
<line x1="318.80" y1="344.50" x2="348.00" y2="344.50" stroke="#222" stroke-width="1" />
<text x="333.40" y="344.10" font-size="8.6" text-anchor="middle" font-weight="bold" font-style="normal" fill="#111" >**</text>
<line x1="366.30" y1="344.50" x2="400.00" y2="344.50" stroke="#222" stroke-width="1" />
<text x="383.15" y="344.10" font-size="8.6" text-anchor="middle" font-weight="bold" font-style="normal" fill="#111" >*</text>
<line x1="415.80" y1="344.50" x2="449.50" y2="344.50" stroke="#222" stroke-width="1" />
<text x="432.65" y="344.10" font-size="8.6" text-anchor="middle" font-weight="bold" font-style="normal" fill="#111" >*</text>
<rect x="129.20" y="466.4" width="63.39" height="6.5" fill="#e31e26"/>
<rect x="192.28" y="466.4" width="76.00" height="6.5" fill="#f4a6a8"/>
<rect x="267.99" y="466.4" width="12.92" height="6.5" fill="#1ea34a"/>
<rect x="280.60" y="466.4" width="25.53" height="6.5" fill="#a8d88c"/>
<rect x="305.84" y="466.4" width="113.85" height="6.5" fill="#1673b8"/>
<rect x="419.39" y="466.4" width="12.92" height="6.5" fill="#a6cfee"/>
<text x="161.50" y="463.30" font-size="8.55" text-anchor="middle" font-weight="normal" font-style="normal" fill="#111" >TSS-1500 Kb</text>
<text x="225.50" y="463.30" font-size="8.55" text-anchor="middle" font-weight="normal" font-style="normal" fill="#111" >TSS-200 Kb</text>
<text x="269.50" y="463.30" font-size="8.55" text-anchor="middle" font-weight="normal" font-style="normal" fill="#111" >1st Exon</text>
<text x="303.20" y="463.30" font-size="8.55" text-anchor="middle" font-weight="normal" font-style="normal" fill="#111" >5' UTR</text>
<text x="352.20" y="463.30" font-size="8.55" text-anchor="middle" font-weight="normal" font-style="normal" fill="#111" >Body</text>
<text x="416.60" y="463.30" font-size="8.55" text-anchor="middle" font-weight="normal" font-style="normal" fill="#111" >3' UTR</text>
<g shape-rendering="crispEdges">
<rect x="129.20" y="476.50" width="13.02" height="13.10" fill="#b81c22"/>
<rect x="141.82" y="476.50" width="13.02" height="13.10" fill="#e01e25"/>
<rect x="154.43" y="476.50" width="13.02" height="13.10" fill="#d81e24"/>
<rect x="167.05" y="476.50" width="13.02" height="13.10" fill="#e52026"/>
<rect x="179.67" y="476.50" width="13.02" height="13.10" fill="#c91d23"/>
<rect x="192.28" y="476.50" width="13.02" height="13.10" fill="#e82026"/>
<rect x="204.90" y="476.50" width="13.02" height="13.10" fill="#ed1c24"/>
<rect x="217.52" y="476.50" width="13.02" height="13.10" fill="#ed1c24"/>
<rect x="230.14" y="476.50" width="13.02" height="13.10" fill="#ed1c24"/>
<rect x="242.75" y="476.50" width="13.02" height="13.10" fill="#ed1c24"/>
<rect x="255.37" y="476.50" width="13.02" height="13.10" fill="#e01f25"/>
<rect x="267.99" y="476.50" width="13.02" height="13.10" fill="#ed1c24"/>
<rect x="280.60" y="476.50" width="13.02" height="13.10" fill="#ed1c24"/>
<rect x="293.22" y="476.50" width="13.02" height="13.10" fill="#ed1c24"/>
<rect x="305.84" y="476.50" width="13.02" height="13.10" fill="#ed1c24"/>
<rect x="318.46" y="476.50" width="13.02" height="13.10" fill="#ed1c24"/>
<rect x="331.07" y="476.50" width="13.02" height="13.10" fill="#b81b20"/>
<rect x="343.69" y="476.50" width="13.02" height="13.10" fill="#ed1c24"/>
<rect x="356.31" y="476.50" width="13.02" height="13.10" fill="#ed1c24"/>
<rect x="368.92" y="476.50" width="13.02" height="13.10" fill="#ed1c24"/>
<rect x="381.54" y="476.50" width="13.02" height="13.10" fill="#0a7a3a"/>
<rect x="394.16" y="476.50" width="13.02" height="13.10" fill="#4ab848"/>
<rect x="406.77" y="476.50" width="13.02" height="13.10" fill="#0aa04a"/>
<rect x="419.39" y="476.50" width="13.02" height="13.10" fill="#0a6a30"/>
<rect x="129.20" y="491.60" width="13.02" height="14.17" fill="#c41e24"/>
<rect x="141.82" y="491.60" width="13.02" height="14.17" fill="#e52026"/>
<rect x="154.43" y="491.60" width="13.02" height="14.17" fill="#e21f25"/>
<rect x="167.05" y="491.60" width="13.02" height="14.17" fill="#ea2027"/>
<rect x="179.67" y="491.60" width="13.02" height="14.17" fill="#d51e24"/>
<rect x="192.28" y="491.60" width="13.02" height="14.17" fill="#ea2027"/>
<rect x="204.90" y="491.60" width="13.02" height="14.17" fill="#ed1c24"/>
<rect x="217.52" y="491.60" width="13.02" height="14.17" fill="#ed1c24"/>
<rect x="230.14" y="491.60" width="13.02" height="14.17" fill="#ed1c24"/>
<rect x="242.75" y="491.60" width="13.02" height="14.17" fill="#ed1c24"/>
<rect x="255.37" y="491.60" width="13.02" height="14.17" fill="#ed1c24"/>
<rect x="267.99" y="491.60" width="13.02" height="14.17" fill="#ed1c24"/>
<rect x="280.60" y="491.60" width="13.02" height="14.17" fill="#ed1c24"/>
<rect x="293.22" y="491.60" width="13.02" height="14.17" fill="#ed1c24"/>
<rect x="305.84" y="491.60" width="13.02" height="14.17" fill="#ed1c24"/>
<rect x="318.46" y="491.60" width="13.02" height="14.17" fill="#ed1c24"/>
<rect x="331.07" y="491.60" width="13.02" height="14.17" fill="#cc1e24"/>
<rect x="343.69" y="491.60" width="13.02" height="14.17" fill="#ed1c24"/>
<rect x="356.31" y="491.60" width="13.02" height="14.17" fill="#ed1c24"/>
<rect x="368.92" y="491.60" width="13.02" height="14.17" fill="#ed1c24"/>
<rect x="381.54" y="491.60" width="13.02" height="14.17" fill="#0a9a48"/>
<rect x="394.16" y="491.60" width="13.02" height="14.17" fill="#52bc4a"/>
<rect x="406.77" y="491.60" width="13.02" height="14.17" fill="#0ca64e"/>
<rect x="419.39" y="491.60" width="13.02" height="14.17" fill="#0a5c2a"/>
<rect x="129.20" y="505.37" width="13.02" height="14.17" fill="#8f1519"/>
<rect x="141.82" y="505.37" width="13.02" height="14.17" fill="#dc1f25"/>
<rect x="154.43" y="505.37" width="13.02" height="14.17" fill="#dd1f25"/>
<rect x="167.05" y="505.37" width="13.02" height="14.17" fill="#e62026"/>
<rect x="179.67" y="505.37" width="13.02" height="14.17" fill="#b81b20"/>
<rect x="192.28" y="505.37" width="13.02" height="14.17" fill="#cf1e24"/>
<rect x="204.90" y="505.37" width="13.02" height="14.17" fill="#e31f26"/>
<rect x="217.52" y="505.37" width="13.02" height="14.17" fill="#ed1c24"/>
<rect x="230.14" y="505.37" width="13.02" height="14.17" fill="#df1f25"/>
<rect x="242.75" y="505.37" width="13.02" height="14.17" fill="#e01f25"/>
<rect x="255.37" y="505.37" width="13.02" height="14.17" fill="#e21f25"/>
<rect x="267.99" y="505.37" width="13.02" height="14.17" fill="#de1f25"/>
<rect x="280.60" y="505.37" width="13.02" height="14.17" fill="#e21f25"/>
<rect x="293.22" y="505.37" width="13.02" height="14.17" fill="#e21f25"/>
<rect x="305.84" y="505.37" width="13.02" height="14.17" fill="#d81e24"/>
<rect x="318.46" y="505.37" width="13.02" height="14.17" fill="#ed1c24"/>
<rect x="331.07" y="505.37" width="13.02" height="14.17" fill="#c81d23"/>
<rect x="343.69" y="505.37" width="13.02" height="14.17" fill="#ed1c24"/>
<rect x="356.31" y="505.37" width="13.02" height="14.17" fill="#ed1c24"/>
<rect x="368.92" y="505.37" width="13.02" height="14.17" fill="#ed1c24"/>
<rect x="381.54" y="505.37" width="13.02" height="14.17" fill="#0a8040"/>
<rect x="394.16" y="505.37" width="13.02" height="14.17" fill="#58be4a"/>
<rect x="406.77" y="505.37" width="13.02" height="14.17" fill="#10a84e"/>
<rect x="419.39" y="505.37" width="13.02" height="14.17" fill="#0a8a42"/>
<rect x="129.20" y="519.14" width="13.02" height="14.17" fill="#6e0f12"/>
<rect x="141.82" y="519.14" width="13.02" height="14.17" fill="#a3181c"/>
<rect x="154.43" y="519.14" width="13.02" height="14.17" fill="#e52026"/>
<rect x="167.05" y="519.14" width="13.02" height="14.17" fill="#ea2027"/>
<rect x="179.67" y="519.14" width="13.02" height="14.17" fill="#d81e24"/>
<rect x="192.28" y="519.14" width="13.02" height="14.17" fill="#e52026"/>
<rect x="204.90" y="519.14" width="13.02" height="14.17" fill="#ed1c24"/>
<rect x="217.52" y="519.14" width="13.02" height="14.17" fill="#ed1c24"/>
<rect x="230.14" y="519.14" width="13.02" height="14.17" fill="#ed1c24"/>
<rect x="242.75" y="519.14" width="13.02" height="14.17" fill="#e62026"/>
<rect x="255.37" y="519.14" width="13.02" height="14.17" fill="#e62026"/>
<rect x="267.99" y="519.14" width="13.02" height="14.17" fill="#e62026"/>
<rect x="280.60" y="519.14" width="13.02" height="14.17" fill="#ed1c24"/>
<rect x="293.22" y="519.14" width="13.02" height="14.17" fill="#ed1c24"/>
<rect x="305.84" y="519.14" width="13.02" height="14.17" fill="#ed1c24"/>
<rect x="318.46" y="519.14" width="13.02" height="14.17" fill="#ed1c24"/>
<rect x="331.07" y="519.14" width="13.02" height="14.17" fill="#cf1e24"/>
<rect x="343.69" y="519.14" width="13.02" height="14.17" fill="#ed1c24"/>
<rect x="356.31" y="519.14" width="13.02" height="14.17" fill="#ed1c24"/>
<rect x="368.92" y="519.14" width="13.02" height="14.17" fill="#ed1c24"/>
<rect x="381.54" y="519.14" width="13.02" height="14.17" fill="#0ca64e"/>
<rect x="394.16" y="519.14" width="13.02" height="14.17" fill="#4ab848"/>
<rect x="406.77" y="519.14" width="13.02" height="14.17" fill="#10a84e"/>
<rect x="419.39" y="519.14" width="13.02" height="14.17" fill="#0c9a48"/>
<rect x="129.20" y="532.91" width="13.02" height="14.17" fill="#b01c20"/>
<rect x="141.82" y="532.91" width="13.02" height="14.17" fill="#dd1f25"/>
<rect x="154.43" y="532.91" width="13.02" height="14.17" fill="#d01e24"/>
<rect x="167.05" y="532.91" width="13.02" height="14.17" fill="#e62026"/>
<rect x="179.67" y="532.91" width="13.02" height="14.17" fill="#d01e24"/>
<rect x="192.28" y="532.91" width="13.02" height="14.17" fill="#e62026"/>
<rect x="204.90" y="532.91" width="13.02" height="14.17" fill="#e42026"/>
<rect x="217.52" y="532.91" width="13.02" height="14.17" fill="#e21f25"/>
<rect x="230.14" y="532.91" width="13.02" height="14.17" fill="#e42026"/>
<rect x="242.75" y="532.91" width="13.02" height="14.17" fill="#e21f25"/>
<rect x="255.37" y="532.91" width="13.02" height="14.17" fill="#df1f25"/>
<rect x="267.99" y="532.91" width="13.02" height="14.17" fill="#e01f25"/>
<rect x="280.60" y="532.91" width="13.02" height="14.17" fill="#ed1c24"/>
<rect x="293.22" y="532.91" width="13.02" height="14.17" fill="#e01f25"/>
<rect x="305.84" y="532.91" width="13.02" height="14.17" fill="#ed1c24"/>
<rect x="318.46" y="532.91" width="13.02" height="14.17" fill="#ed1c24"/>
<rect x="331.07" y="532.91" width="13.02" height="14.17" fill="#b01a1f"/>
<rect x="343.69" y="532.91" width="13.02" height="14.17" fill="#ed1c24"/>
<rect x="356.31" y="532.91" width="13.02" height="14.17" fill="#ed1c24"/>
<rect x="368.92" y="532.91" width="13.02" height="14.17" fill="#ed1c24"/>
<rect x="381.54" y="532.91" width="13.02" height="14.17" fill="#087a3a"/>
<rect x="394.16" y="532.91" width="13.02" height="14.17" fill="#4ab848"/>
<rect x="406.77" y="532.91" width="13.02" height="14.17" fill="#0a9a48"/>
<rect x="419.39" y="532.91" width="13.02" height="14.17" fill="#000000"/>
<rect x="129.20" y="546.69" width="13.02" height="14.17" fill="#d01f25"/>
<rect x="141.82" y="546.69" width="13.02" height="14.17" fill="#e82026"/>
<rect x="154.43" y="546.69" width="13.02" height="14.17" fill="#e01f25"/>
<rect x="167.05" y="546.69" width="13.02" height="14.17" fill="#ea2027"/>
<rect x="179.67" y="546.69" width="13.02" height="14.17" fill="#d21e24"/>
<rect x="192.28" y="546.69" width="13.02" height="14.17" fill="#e62026"/>
<rect x="204.90" y="546.69" width="13.02" height="14.17" fill="#ed1c24"/>
<rect x="217.52" y="546.69" width="13.02" height="14.17" fill="#e62026"/>
<rect x="230.14" y="546.69" width="13.02" height="14.17" fill="#ed1c24"/>
<rect x="242.75" y="546.69" width="13.02" height="14.17" fill="#ed1c24"/>
<rect x="255.37" y="546.69" width="13.02" height="14.17" fill="#ed1c24"/>
<rect x="267.99" y="546.69" width="13.02" height="14.17" fill="#ed1c24"/>
<rect x="280.60" y="546.69" width="13.02" height="14.17" fill="#ed1c24"/>
<rect x="293.22" y="546.69" width="13.02" height="14.17" fill="#ed1c24"/>
<rect x="305.84" y="546.69" width="13.02" height="14.17" fill="#ed1c24"/>
<rect x="318.46" y="546.69" width="13.02" height="14.17" fill="#ed1c24"/>
<rect x="331.07" y="546.69" width="13.02" height="14.17" fill="#c41d22"/>
<rect x="343.69" y="546.69" width="13.02" height="14.17" fill="#ed1c24"/>
<rect x="356.31" y="546.69" width="13.02" height="14.17" fill="#ed1c24"/>
<rect x="368.92" y="546.69" width="13.02" height="14.17" fill="#ed1c24"/>
<rect x="381.54" y="546.69" width="13.02" height="14.17" fill="#0a9044"/>
<rect x="394.16" y="546.69" width="13.02" height="14.17" fill="#4ab848"/>
<rect x="406.77" y="546.69" width="13.02" height="14.17" fill="#0ca04a"/>
<rect x="419.39" y="546.69" width="13.02" height="14.17" fill="#0a2a12"/>
<rect x="129.20" y="560.46" width="13.02" height="14.17" fill="#9e171b"/>
<rect x="141.82" y="560.46" width="13.02" height="14.17" fill="#e21f25"/>
<rect x="154.43" y="560.46" width="13.02" height="14.17" fill="#e52026"/>
<rect x="167.05" y="560.46" width="13.02" height="14.17" fill="#e82026"/>
<rect x="179.67" y="560.46" width="13.02" height="14.17" fill="#b51a1f"/>
<rect x="192.28" y="560.46" width="13.02" height="14.17" fill="#e52026"/>
<rect x="204.90" y="560.46" width="13.02" height="14.17" fill="#ed1c24"/>
<rect x="217.52" y="560.46" width="13.02" height="14.17" fill="#dc1f25"/>
<rect x="230.14" y="560.46" width="13.02" height="14.17" fill="#d81f25"/>
<rect x="242.75" y="560.46" width="13.02" height="14.17" fill="#e01f25"/>
<rect x="255.37" y="560.46" width="13.02" height="14.17" fill="#e21f25"/>
<rect x="267.99" y="560.46" width="13.02" height="14.17" fill="#ed1c24"/>
<rect x="280.60" y="560.46" width="13.02" height="14.17" fill="#ed1c24"/>
<rect x="293.22" y="560.46" width="13.02" height="14.17" fill="#ed1c24"/>
<rect x="305.84" y="560.46" width="13.02" height="14.17" fill="#ed1c24"/>
<rect x="318.46" y="560.46" width="13.02" height="14.17" fill="#ed1c24"/>
<rect x="331.07" y="560.46" width="13.02" height="14.17" fill="#8f1519"/>
<rect x="343.69" y="560.46" width="13.02" height="14.17" fill="#ed1c24"/>
<rect x="356.31" y="560.46" width="13.02" height="14.17" fill="#ed1c24"/>
<rect x="368.92" y="560.46" width="13.02" height="14.17" fill="#ed1c24"/>
<rect x="381.54" y="560.46" width="13.02" height="14.17" fill="#14b450"/>
<rect x="394.16" y="560.46" width="13.02" height="14.17" fill="#4ab848"/>
<rect x="406.77" y="560.46" width="13.02" height="14.17" fill="#0a9a48"/>
<rect x="419.39" y="560.46" width="13.02" height="14.17" fill="#0a4a22"/>
<rect x="129.20" y="574.23" width="13.02" height="13.77" fill="#0a2a14"/>
<rect x="141.82" y="574.23" width="13.02" height="13.77" fill="#051a0a"/>
<rect x="154.43" y="574.23" width="13.02" height="13.77" fill="#0f4020"/>
<rect x="167.05" y="574.23" width="13.02" height="13.77" fill="#000000"/>
<rect x="179.67" y="574.23" width="13.02" height="13.77" fill="#067a3c"/>
<rect x="192.28" y="574.23" width="13.02" height="13.77" fill="#2a0608"/>
<rect x="204.90" y="574.23" width="13.02" height="13.77" fill="#2a0608"/>
<rect x="217.52" y="574.23" width="13.02" height="13.77" fill="#240507"/>
<rect x="230.14" y="574.23" width="13.02" height="13.77" fill="#200406"/>
<rect x="242.75" y="574.23" width="13.02" height="13.77" fill="#8c1418"/>
<rect x="255.37" y="574.23" width="13.02" height="13.77" fill="#3a080a"/>
<rect x="267.99" y="574.23" width="13.02" height="13.77" fill="#b81c22"/>
<rect x="280.60" y="574.23" width="13.02" height="13.77" fill="#d01e24"/>
<rect x="293.22" y="574.23" width="13.02" height="13.77" fill="#d81e24"/>
<rect x="305.84" y="574.23" width="13.02" height="13.77" fill="#2a0608"/>
<rect x="318.46" y="574.23" width="13.02" height="13.77" fill="#1c0305"/>
<rect x="331.07" y="574.23" width="13.02" height="13.77" fill="#050000"/>
<rect x="343.69" y="574.23" width="13.02" height="13.77" fill="#1c0305"/>
<rect x="356.31" y="574.23" width="13.02" height="13.77" fill="#0c0001"/>
<rect x="368.92" y="574.23" width="13.02" height="13.77" fill="#1c0305"/>
<rect x="381.54" y="574.23" width="13.02" height="13.77" fill="#5cc04a"/>
<rect x="394.16" y="574.23" width="13.02" height="13.77" fill="#3ab54a"/>
<rect x="406.77" y="574.23" width="13.02" height="13.77" fill="#1eb04c"/>
<rect x="419.39" y="574.23" width="13.02" height="13.77" fill="#14b050"/>
</g>
<text x="126.30" y="486.25" font-size="9.0" text-anchor="end" font-weight="normal" font-style="normal" fill="#111" >CHD</text>
<text x="126.30" y="501.69" font-size="9.0" text-anchor="end" font-weight="normal" font-style="normal" fill="#111" >NOF</text>
<text x="126.30" y="515.46" font-size="9.0" text-anchor="end" font-weight="normal" font-style="normal" fill="#111" >ABC</text>
<text x="126.30" y="529.23" font-size="9.0" text-anchor="end" font-weight="normal" font-style="normal" fill="#111" >OB</text>
<text x="126.30" y="543.00" font-size="9.0" text-anchor="end" font-weight="normal" font-style="normal" fill="#111" >CHB_K36M</text>
<text x="126.30" y="556.77" font-size="9.0" text-anchor="end" font-weight="normal" font-style="normal" fill="#111" >CMF</text>
<text x="126.30" y="570.54" font-size="9.0" text-anchor="end" font-weight="normal" font-style="normal" fill="#111" >CS_WT</text>
<text x="126.30" y="584.31" font-size="9.0" text-anchor="end" font-weight="normal" font-style="normal" fill="#111" >CS_IDH</text>
<line x1="134.01" y1="591.70" x2="127.70" y2="606.80" stroke="#7397c8" stroke-width="0.7" />
<line x1="146.63" y1="591.70" x2="135.80" y2="606.80" stroke="#7397c8" stroke-width="0.7" />
<line x1="159.24" y1="591.70" x2="151.30" y2="606.80" stroke="#7397c8" stroke-width="0.7" />
<line x1="171.86" y1="591.70" x2="153.60" y2="606.80" stroke="#7397c8" stroke-width="0.7" />
<line x1="184.48" y1="591.70" x2="154.60" y2="606.80" stroke="#7397c8" stroke-width="0.7" />
<line x1="197.09" y1="591.70" x2="155.50" y2="606.80" stroke="#5c97d2" stroke-width="0.7" />
<line x1="209.71" y1="591.70" x2="156.50" y2="606.80" stroke="#5c97d2" stroke-width="0.7" />
<line x1="222.33" y1="591.70" x2="157.50" y2="606.80" stroke="#5c97d2" stroke-width="0.7" />
<line x1="234.94" y1="591.70" x2="158.50" y2="606.80" stroke="#5c97d2" stroke-width="0.7" />
<line x1="247.56" y1="591.70" x2="159.50" y2="606.80" stroke="#5c97d2" stroke-width="0.7" />
<line x1="260.18" y1="591.70" x2="160.50" y2="606.80" stroke="#5c97d2" stroke-width="0.7" />
<line x1="272.80" y1="591.70" x2="161.50" y2="606.80" stroke="#5c97d2" stroke-width="0.7" />
<line x1="285.41" y1="591.70" x2="162.50" y2="606.80" stroke="#5c97d2" stroke-width="0.7" />
<line x1="298.03" y1="591.70" x2="163.50" y2="606.80" stroke="#5c97d2" stroke-width="0.7" />
<line x1="310.65" y1="591.70" x2="170.00" y2="606.80" stroke="#5c97d2" stroke-width="0.7" />
<line x1="323.26" y1="591.70" x2="180.00" y2="606.80" stroke="#5c97d2" stroke-width="0.7" />
<line x1="335.88" y1="591.70" x2="190.00" y2="606.80" stroke="#5c97d2" stroke-width="0.7" />
<line x1="348.50" y1="591.70" x2="202.00" y2="606.80" stroke="#5c97d2" stroke-width="0.7" />
<line x1="361.11" y1="591.70" x2="217.00" y2="606.80" stroke="#5c97d2" stroke-width="0.7" />
<line x1="373.73" y1="591.70" x2="234.00" y2="606.80" stroke="#5c97d2" stroke-width="0.7" />
<line x1="387.00" y1="592.00" x2="402.00" y2="607.00" stroke="#8da6c8" stroke-width="0.7" />
<line x1="399.60" y1="592.00" x2="413.50" y2="607.00" stroke="#8da6c8" stroke-width="0.7" />
<line x1="412.80" y1="592.00" x2="414.20" y2="607.00" stroke="#8da6c8" stroke-width="0.7" />
<line x1="425.00" y1="592.00" x2="415.80" y2="607.00" stroke="#8da6c8" stroke-width="0.7" />
<line x1="160.00" y1="615.20" x2="432.00" y2="615.20" stroke="#a294b4" stroke-width="0.6" />
<rect x="160.00" y="610.60" width="9.20" height="9.00" fill="#2f4fb0" stroke="#1d2f7a" stroke-width="0.7" />
<rect x="180.00" y="610.60" width="12.30" height="9.00" fill="#2f4fb0" stroke="#1d2f7a" stroke-width="0.7" />
<rect x="205.20" y="610.60" width="6.60" height="9.00" fill="#2f4fb0" stroke="#1d2f7a" stroke-width="0.7" />
<rect x="230.20" y="610.60" width="3.20" height="9.00" fill="#2f4fb0" stroke="#1d2f7a" stroke-width="0.7" />
<rect x="254.30" y="610.60" width="2.00" height="9.00" fill="#2f4fb0" stroke="#1d2f7a" stroke-width="0.7" />
<rect x="258.60" y="610.60" width="2.20" height="9.00" fill="#2f4fb0" stroke="#1d2f7a" stroke-width="0.7" />
<rect x="309.70" y="610.60" width="3.70" height="9.00" fill="#2f4fb0" stroke="#1d2f7a" stroke-width="0.7" />
<rect x="350.00" y="610.60" width="4.00" height="9.00" fill="#2f4fb0" stroke="#1d2f7a" stroke-width="0.7" />
<rect x="408.90" y="610.40" width="23.10" height="9.60" fill="#2f4fb0" stroke="#1d2f7a" stroke-width="0.7" />
<line x1="413.60" y1="610.40" x2="413.60" y2="620.00" stroke="#1d2f7a" stroke-width="0.7" />
<line x1="164.60" y1="610.60" x2="164.60" y2="619.60" stroke="#1d2f7a" stroke-width="0.5" />
<line x1="186.20" y1="610.60" x2="186.20" y2="619.60" stroke="#1d2f7a" stroke-width="0.5" />
<line x1="160.00" y1="615.10" x2="169.20" y2="615.10" stroke="#1d2f7a" stroke-width="0.4" />
<line x1="180.00" y1="615.10" x2="192.30" y2="615.10" stroke="#1d2f7a" stroke-width="0.4" />
<text x="127.30" y="629.80" font-size="9.05" text-anchor="start" font-weight="normal" font-style="normal" fill="#111" >Transcription start site</text>
<text x="266.50" y="632.00" font-size="8.8" text-anchor="start" font-weight="normal" font-style="italic" fill="#111" >TBXT</text>
<rect x="72.60" y="594.70" width="47.40" height="30.60" fill="#fff" stroke="#7a7a7a" stroke-width="0.8" />
<text x="96.20" y="598.40" font-size="3.2" text-anchor="middle" font-weight="bold" font-style="normal" fill="#111" style="stroke:none">Color key</text>
<rect x="74.4" y="600" width="43.3" height="15.8" fill="url(#ckey)"/>
<text x="80.20" y="620.00" font-size="2.8" text-anchor="middle" font-weight="normal" font-style="normal" fill="#111" style="stroke:none">0.2</text>
<text x="90.80" y="620.00" font-size="2.8" text-anchor="middle" font-weight="normal" font-style="normal" fill="#111" style="stroke:none">0.4</text>
<text x="100.80" y="620.00" font-size="2.8" text-anchor="middle" font-weight="normal" font-style="normal" fill="#111" style="stroke:none">0.6</text>
<text x="110.40" y="620.00" font-size="2.8" text-anchor="middle" font-weight="normal" font-style="normal" fill="#111" style="stroke:none">0.8</text>
<text x="96.20" y="623.60" font-size="2.8" text-anchor="middle" font-weight="normal" font-style="normal" fill="#111" style="stroke:none">Value</text>
</svg>
</body></html>
